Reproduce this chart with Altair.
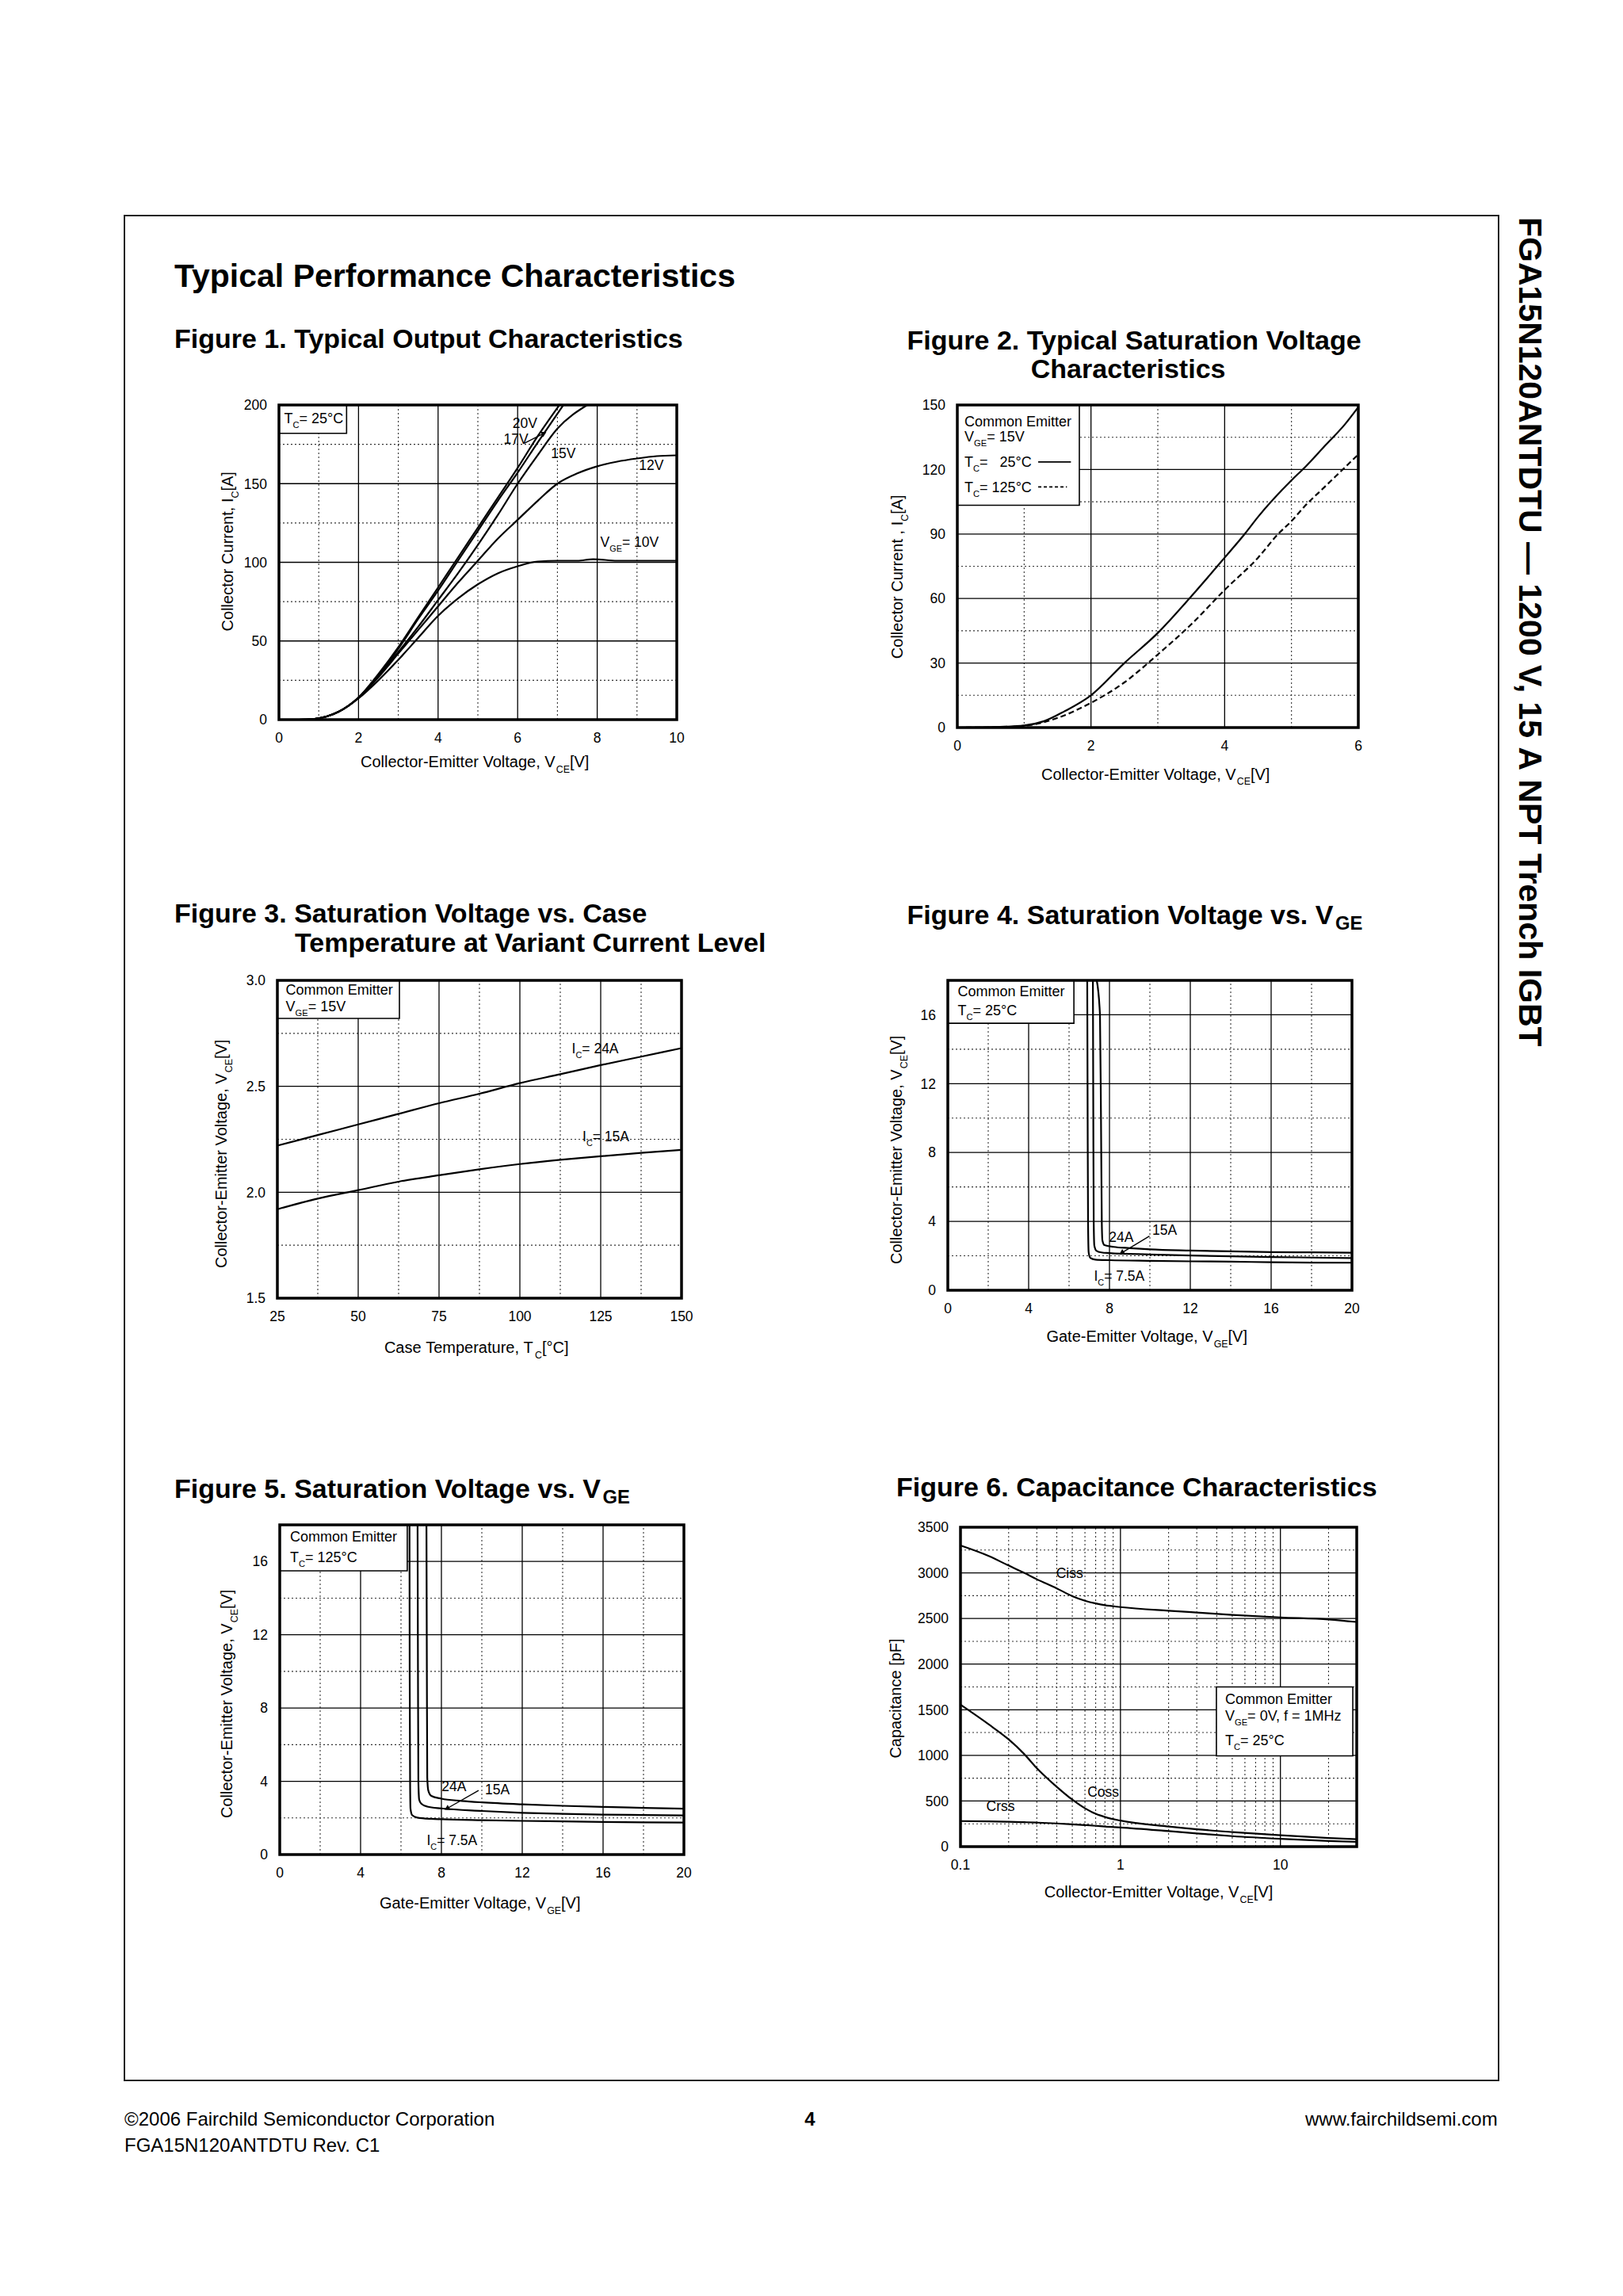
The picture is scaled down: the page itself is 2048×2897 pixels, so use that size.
import math
import altair as alt
import pandas as pd

# ====================== DATA ======================
# Figure 1 - Typical output characteristics, Tc = 25 C   (VCE [V] -> IC [A])
f1_vge20_vce = [0, 0.5, 0.9, 1.2, 1.5, 2, 2.5, 3, 3.5, 4, 4.5, 5, 5.5, 6, 6.5, 7.05]
f1_vge20_ic = [0, 0, 0.5, 2, 5, 14, 29, 46, 65, 84, 103, 122, 141, 160, 180, 200]
f1_vge17_vce = [0, 0.5, 0.9, 1.2, 1.5, 2, 2.5, 3, 3.5, 4, 4.5, 5, 5.5, 6, 6.5, 7.15]
f1_vge17_ic = [0, 0, 0.5, 2, 5, 14, 28, 45, 64, 82, 101, 120, 139, 157, 176, 200]
f1_vge15_vce = [0, 0.5, 0.9, 1.2, 1.5, 2, 2.5, 3, 3.5, 4, 4.5, 5, 5.5, 6, 6.5, 7, 7.75]
f1_vge15_ic = [0, 0, 0.5, 2, 5, 14, 28, 43, 59, 76, 93, 111, 130, 150, 168, 185, 200]
f1_vge12_vce = [0, 0.5, 0.9, 1.2, 1.5, 2, 2.5, 3, 3.5, 4, 4.5, 5, 5.5, 6, 6.5, 7, 7.5, 8, 8.5, 9, 9.5, 10]
f1_vge12_ic = [0, 0, 0.5, 2, 5, 14, 27, 42, 57, 72, 87, 101, 115, 127, 139, 150, 156.5, 161, 164, 166, 167.5, 168]
f1_vge10_vce = [0, 0.5, 0.9, 1.2, 1.5, 2, 2.5, 3, 3.5, 4, 4.5, 5, 5.5, 6, 6.5, 7, 7.5, 7.9, 8.5, 9, 10]
f1_vge10_ic = [0, 0, 0.5, 2, 5, 13.5, 25, 38, 52, 66, 77, 86, 93, 97.5, 100.5, 101, 101, 102, 101, 101, 101]

# Figure 2 - Typical saturation voltage, VGE = 15 V
f2_t25_vce = [0, 0.5, 1.0, 1.3, 1.6, 2.0, 2.5, 3.0, 3.5, 4.0, 4.3, 4.5, 5.0, 5.2, 5.5, 5.8, 6.0]
f2_t25_ic = [0, 0.2, 1, 3, 7.5, 15, 30, 44, 61, 79, 90, 98, 115, 121, 131, 141, 149]
f2_t125_vce = [0, 0.5, 1.0, 1.5, 2.0, 2.5, 3.0, 3.5, 4.0, 4.5, 4.8, 5.0, 5.2, 5.5, 5.8, 6.0]
f2_t125_ic = [0, 0.1, 0.8, 4.5, 11.5, 21, 34, 48, 64, 79, 90, 96, 103, 112, 121, 127]

# Figure 3 - Saturation voltage vs case temperature
f3_tc = [25, 37.5, 50, 62.5, 75, 87.5, 100, 112.5, 125, 137.5, 150]
f3_ic24_vce = [2.22, 2.27, 2.32, 2.37, 2.42, 2.465, 2.515, 2.557, 2.60, 2.64, 2.68]
f3_ic15_vce = [1.92, 1.97, 2.01, 2.05, 2.08, 2.108, 2.133, 2.153, 2.17, 2.186, 2.20]

# Figure 4 - Saturation voltage vs VGE, Tc = 25 C
f4_ic24_vge = [7.37, 7.53, 7.58, 7.62, 7.65, 7.75, 8.2, 9, 10, 12, 14, 16, 18, 20]
f4_ic24_vce = [18, 16, 10, 4, 2.9, 2.62, 2.52, 2.45, 2.38, 2.31, 2.26, 2.22, 2.2, 2.18]
f4_ic15_vge = [7.18, 7.2, 7.22, 7.25, 7.35, 7.6, 8, 10, 12, 14, 16, 18, 20]
f4_ic15_vce = [18, 10, 4, 2.6, 2.3, 2.2, 2.16, 2.08, 2.02, 1.97, 1.93, 1.9, 1.87]
f4_ic7_vge = [6.9, 6.92, 6.94, 6.97, 7.05, 7.3, 8, 10, 12, 14, 16, 18, 20]
f4_ic7_vce = [18, 10, 4, 2.2, 1.88, 1.78, 1.75, 1.71, 1.68, 1.66, 1.63, 1.61, 1.6]

# Figure 5 - Saturation voltage vs VGE, Tc = 125 C
f5_ic24_vge = [7.26, 7.28, 7.3, 7.35, 7.5, 8, 9, 10, 12, 14, 16, 18, 20]
f5_ic24_vce = [18, 10, 4.2, 3.5, 3.2, 3.05, 2.93, 2.85, 2.74, 2.66, 2.6, 2.55, 2.5]
f5_ic15_vge = [6.82, 6.84, 6.86, 6.9, 7.0, 7.3, 8, 10, 12, 14, 16, 18, 20]
f5_ic15_vce = [18, 10, 4, 3.0, 2.78, 2.62, 2.52, 2.38, 2.28, 2.22, 2.18, 2.16, 2.14]
f5_ic7_vge = [6.42, 6.43, 6.45, 6.47, 6.55, 6.8, 7.5, 8, 10, 12, 14, 16, 18, 20]
f5_ic7_vce = [18, 10, 4, 2.5, 2.15, 2.02, 1.95, 1.93, 1.88, 1.84, 1.81, 1.78, 1.76, 1.75]

# Figure 6 - Capacitance characteristics
f6_vce = [0.1, 0.15, 0.2, 0.25, 0.3, 0.4, 0.5, 0.6, 0.7, 0.8, 1, 2, 3, 5, 10, 20, 30]
f6_ciss = [3300, 3185, 3080, 3000, 2930, 2830, 2745, 2695, 2665, 2645, 2625, 2585, 2565, 2540, 2512, 2490, 2462]
f6_coss = [1555, 1340, 1175, 1015, 860, 655, 515, 420, 360, 325, 285, 220, 190, 160, 125, 95, 82]
f6_crss = [280, 277, 273, 268, 263, 254, 245, 236, 228, 220, 210, 170, 145, 115, 85, 62, 52]

# ---- tick labels and grid lines ----
f1_xticks = [0, 2, 4, 6, 8, 10]
f1_yticks = [0, 50, 100, 150, 200]
f1_xminor = [1, 3, 5, 7, 9]
f1_yminor = [25, 75, 125, 175]
f2_xticks = [0, 2, 4, 6]
f2_yticks = [0, 30, 60, 90, 120, 150]
f2_xminor = [1, 3, 5]
f2_yminor = [15, 45, 75, 105, 135]
f3_xticks = [25, 50, 75, 100, 125, 150]
f3_yticks = [1.5, 2.0, 2.5, 3.0]
f3_xminor = [37.5, 62.5, 87.5, 112.5, 137.5]
f3_yminor = [1.75, 2.25, 2.75]
f45_xticks = [0, 4, 8, 12, 16, 20]
f45_yticks = [0, 4, 8, 12, 16]
f45_xminor = [2, 6, 10, 14, 18]
f45_yminor = [2, 6, 10, 14]
f6_xticks = [0.1, 1, 10]
f6_yticks = [0, 500, 1000, 1500, 2000, 2500, 3000, 3500]
f6_xminor = [0.2, 0.3, 0.4, 0.5, 0.6, 0.7, 0.8, 0.9, 2, 3, 4, 5, 6, 7, 8, 9, 20]
f6_yminor = [250, 750, 1250, 1750, 2250, 2750, 3250]

# ====================== LAYOUT ======================
PAGE_W, PAGE_H = 2048, 2897
M = 8
W, H = PAGE_W - 2 * M, PAGE_H - 2 * M
FONT = "Liberation Sans"
NB = "\u00a0"

# plot rectangles in page pixels: x=(left, right), y=(bottom, top)
PANELS = {
    1: dict(x=(352, 854), y=(908, 511), xd=(0, 10), yd=(0, 200), log=False),
    2: dict(x=(1208, 1714), y=(918, 511), xd=(0, 6), yd=(0, 150), log=False),
    3: dict(x=(350, 860), y=(1638, 1237), xd=(25, 150), yd=(1.5, 3.0), log=False),
    4: dict(x=(1196, 1706), y=(1628, 1237), xd=(0, 20), yd=(0, 18), log=False),
    5: dict(x=(353, 863), y=(2340, 1924), xd=(0, 20), yd=(0, 18), log=False),
    6: dict(x=(1212, 1712), y=(2330, 1927), xd=(0.1, 30), yd=(0, 3500), log=True),
}

ONE = pd.DataFrame({"k": [0]})

REG_W = {' ': 278, NB: 278, '!': 278, '(': 333, ')': 333, ',': 278, '-': 333, '.': 278, '/': 278,
         ':': 278, '=': 584, '[': 278, ']': 278, '°': 400, '©': 737, '—': 1000}
BOLD_W = {' ': 278, NB: 278, '(': 333, ')': 333, ',': 278, '-': 333, '.': 278, ':': 333, '=': 584, '—': 1000}
for c in "0123456789":
    REG_W[c] = 556
    BOLD_W[c] = 556
for c, w in zip("ABCDEFGHIJKLMNOPQRSTUVWXYZ",
                [667, 667, 722, 722, 667, 611, 778, 722, 278, 500, 667, 556, 833, 722, 778, 667, 778, 722, 667, 611, 722, 667, 944, 667, 667, 611]):
    REG_W[c] = w
for c, w in zip("abcdefghijklmnopqrstuvwxyz",
                [556, 556, 500, 556, 556, 278, 556, 556, 222, 222, 500, 222, 833, 556, 556, 556, 556, 333, 500, 278, 556, 500, 722, 500, 500, 500]):
    REG_W[c] = w
for c, w in zip("ABCDEFGHIJKLMNOPQRSTUVWXYZ",
                [722, 722, 722, 722, 667, 611, 778, 722, 278, 556, 722, 611, 833, 722, 778, 667, 778, 722, 667, 611, 722, 667, 944, 667, 667, 611]):
    BOLD_W[c] = w
for c, w in zip("abcdefghijklmnopqrstuvwxyz",
                [556, 611, 556, 611, 556, 333, 611, 611, 278, 278, 556, 278, 889, 611, 611, 611, 611, 389, 556, 333, 611, 556, 778, 556, 556, 500]):
    BOLD_W[c] = w


def text_width(s, fs, bold=False):
    tab = BOLD_W if bold else REG_W
    return sum(tab.get(c, 556) for c in s) * fs / 1000.0


def split_segments(segs, fs, bold, sub_scale, sub_drop):
    items, cum = [], 0.0
    for s in segs:
        if s.startswith('_'):
            t, f, d = s[1:], fs * sub_scale, fs * sub_drop
        else:
            t, f, d = s, fs, 0.0
        t = t.replace(' ', NB)          # keep leading / repeated spaces in SVG
        items.append((t, f, cum, d))
        cum += text_width(t, f, bold)
    return items, cum


def XS(p):
    P = PANELS[p]
    kw = dict(domain=list(P['xd']), range=[P['x'][0] - M, P['x'][1] - M], nice=False)
    if P['log']:
        kw['type'] = 'log'
    else:
        kw['zero'] = False
    return alt.Scale(**kw)


def YS(p):
    P = PANELS[p]
    return alt.Scale(domain=list(P['yd']), range=[P['y'][0] - M, P['y'][1] - M], nice=False, zero=False)


def xd(p, v):
    return alt.XDatum(v, type='quantitative', scale=XS(p), axis=None)


def yd(p, v):
    return alt.YDatum(v, type='quantitative', scale=YS(p), axis=None)


MINOR = dict(color='#333333', strokeWidth=1.1, strokeDash=[2, 3])
MAJOR = dict(color='black', strokeWidth=1.3)
TICK_FS = 17.5


def fmt_tick(v, fmt):
    if fmt == '.1f':
        return f"{v:.1f}"
    if fmt == 'g':
        return f"{v:g}"
    return f"{int(round(v))}"


def grid(p, xmaj, xmin, ymaj, ymin, xticks, yticks, xfmt, yfmt):
    P = PANELS[p]
    x0, x1 = P['xd']
    y0, y1 = P['yd']
    xlab = pd.DataFrame({'v': xticks, 'lab': [fmt_tick(v, xfmt) for v in xticks]})
    ylab = pd.DataFrame({'v': yticks, 'lab': [fmt_tick(v, yfmt) for v in yticks]})
    return [
        alt.Chart(pd.DataFrame({'v': xmin})).mark_rule(**MINOR).encode(
            x=alt.X('v:Q', scale=XS(p), axis=None), y=yd(p, y0), y2=alt.Y2Datum(y1)),
        alt.Chart(pd.DataFrame({'v': ymin})).mark_rule(**MINOR).encode(
            y=alt.Y('v:Q', scale=YS(p), axis=None), x=xd(p, x0), x2=alt.X2Datum(x1)),
        alt.Chart(pd.DataFrame({'v': xmaj})).mark_rule(**MAJOR).encode(
            x=alt.X('v:Q', scale=XS(p), axis=None), y=yd(p, y0), y2=alt.Y2Datum(y1)),
        alt.Chart(pd.DataFrame({'v': ymaj})).mark_rule(**MAJOR).encode(
            y=alt.Y('v:Q', scale=YS(p), axis=None), x=xd(p, x0), x2=alt.X2Datum(x1)),
        # tick labels (x below the plot, y left of the plot)
        alt.Chart(xlab).mark_text(align='center', baseline='alphabetic', font=FONT, fontSize=TICK_FS,
                                  color='black', dy=round(22.6 + 0.358 * TICK_FS, 2)).encode(
            x=alt.X('v:Q', scale=XS(p), axis=None), y=yd(p, y0), text='lab:N'),
        alt.Chart(ylab).mark_text(align='right', baseline='alphabetic', font=FONT, fontSize=TICK_FS,
                                  color='black', dx=-15, dy=round(0.358 * TICK_FS, 2)).encode(
            y=alt.Y('v:Q', scale=YS(p), axis=None), x=xd(p, x0), text='lab:N'),
    ]


def frame(p):
    P = PANELS[p]
    return alt.Chart(ONE).mark_rect(fillOpacity=0, stroke='black', strokeWidth=3.5).encode(
        x=xd(p, P['xd'][0]), x2=alt.X2Datum(P['xd'][1]), y=yd(p, P['yd'][0]), y2=alt.Y2Datum(P['yd'][1]))


def box(p, bx0, bx1, by0, by1):
    return alt.Chart(ONE).mark_rect(fill='white', stroke='black', strokeWidth=1.6).encode(
        x=xd(p, bx0), x2=alt.X2Datum(bx1), y=yd(p, by0), y2=alt.Y2Datum(by1))


def curve(p, xs_, ys_, dash=None):
    df = pd.DataFrame({'x': xs_, 'y': ys_, 'i': list(range(len(xs_)))})
    kw = dict(color='black', strokeWidth=2.2, interpolate='monotone')
    if dash:
        kw['strokeDash'] = dash
    return alt.Chart(df).mark_line(**kw).encode(
        x=alt.X('x:Q', scale=XS(p), axis=None), y=alt.Y('y:Q', scale=YS(p), axis=None), order='i:Q')


def seg_rule(p, ax0, ay0, ax1, ay1, dash=None, width=1.5):
    kw = dict(color='black', strokeWidth=width)
    if dash:
        kw['strokeDash'] = dash
    return alt.Chart(ONE).mark_rule(**kw).encode(
        x=xd(p, ax0), y=yd(p, ay0), x2=alt.X2Datum(ax1), y2=alt.Y2Datum(ay1))


def arrow(p, ax0, ay0, ax1, ay1):
    P = PANELS[p]
    sx = (P['x'][1] - P['x'][0]) / (P['xd'][1] - P['xd'][0])
    sy = (P['y'][0] - P['y'][1]) / (P['yd'][1] - P['yd'][0])
    dxp, dyp = (ax1 - ax0) * sx, -(ay1 - ay0) * sy
    ang = math.degrees(math.atan2(dxp, -dyp)) % 360
    head = alt.Chart(ONE).mark_point(shape='triangle-up', filled=True, color='black', opacity=1,
                                     size=55, angle=round(ang, 1)).encode(x=xd(p, ax1), y=yd(p, ay1))
    return [seg_rule(p, ax0, ay0, ax1, ay1, width=1.4), head]


def anno(p, segs, x, y, fs=17.5, align='center', sub=(0.62, 0.33)):
    items, total = split_segments(segs, fs, False, *sub)
    start = 0.0 if align == 'left' else -total / 2
    out = []
    for t, f, cum, d in items:
        out.append(alt.Chart(ONE).mark_text(
            align='left', baseline='alphabetic', font=FONT, fontSize=round(f, 2), color='black',
            dx=round(start + cum, 2), dy=round(0.358 * fs + d, 2)).encode(
            x=xd(p, x), y=yd(p, y), text=alt.value(t)))
    return out


PAGE_ROWS = {'normal': [], 'bold': []}


def page_text(segs, x, y, fs, bold=False, angle=0, align='center', sub=(0.62, 0.33)):
    items, total = split_segments(segs, fs, bold, *sub)
    a = math.radians(angle)
    ux, uy = math.cos(a), math.sin(a)
    vx, vy = -math.sin(a), math.cos(a)
    start = {'left': 0.0, 'center': -total / 2, 'right': -total}[align]
    base = 0.358 * fs
    for t, f, cum, d in items:
        along, off = start + cum, base + d
        PAGE_ROWS['bold' if bold else 'normal'].append(dict(
            px=round(x + along * ux + off * vx - M, 2), py=round(y + along * uy + off * vy - M, 2),
            t=t, fs=round(f, 2), ang=angle % 360))


def page_text_layer(rows, weight):
    return alt.Chart(pd.DataFrame(rows)).mark_text(
        align='left', baseline='alphabetic', font=FONT, fontWeight=weight, color='black').encode(
        x=alt.X('px:Q', scale=None, axis=None),
        y=alt.Y('py:Q', scale=None, axis=None),
        text=alt.Text('t:N'),
        size=alt.Size('fs:Q', scale=None, legend=None),
        angle=alt.Angle('ang:Q', scale=None))


# ====================== FIGURES ======================
LEG = 18
fig1 = alt.layer(
    *grid(1, [2, 4, 6, 8], f1_xminor, [50, 100, 150], f1_yminor, f1_xticks, f1_yticks, 'd', 'd'),
    box(1, 0, 1.70, 182, 200),
    curve(1, f1_vge10_vce, f1_vge10_ic), curve(1, f1_vge12_vce, f1_vge12_ic),
    curve(1, f1_vge15_vce, f1_vge15_ic), curve(1, f1_vge17_vce, f1_vge17_ic),
    curve(1, f1_vge20_vce, f1_vge20_ic),
    frame(1),
    *anno(1, ["T", "_C", " = 25°C"], 0.13, 191.6, fs=LEG, align='left'),
    *anno(1, ["20V"], 6.18, 188.4), *anno(1, ["17V"], 5.96, 178.3),
    *anno(1, ["15V"], 7.15, 169.3), *anno(1, ["12V"], 9.36, 161.7),
    *anno(1, ["V", "_GE", " = 10V"], 8.86, 112.8),
    *arrow(1, 6.175, 175.8, 6.665, 182.0),
)

fig2 = alt.layer(
    *grid(2, [2, 4], f2_xminor, [30, 60, 90, 120], f2_yminor, f2_xticks, f2_yticks, 'd', 'd'),
    box(2, 0, 1.826, 103.4, 150),
    curve(2, f2_t125_vce, f2_t125_ic, dash=[7, 4]), curve(2, f2_t25_vce, f2_t25_ic),
    frame(2),
    *anno(2, ["Common Emitter"], 0.107, 142.6, fs=LEG, align='left'),
    *anno(2, ["V", "_GE", " = 15V"], 0.107, 135.3, fs=LEG, align='left'),
    *anno(2, ["T", "_C", " =   25°C"], 0.107, 123.5, fs=LEG, align='left'),
    *anno(2, ["T", "_C", " = 125°C"], 0.107, 111.9, fs=LEG, align='left'),
    seg_rule(2, 1.21, 123.5, 1.70, 123.5, width=1.6),
    seg_rule(2, 1.21, 111.9, 1.64, 111.9, dash=[4, 3], width=1.6),
)

fig3 = alt.layer(
    *grid(3, [50, 75, 100, 125], f3_xminor, [2.0, 2.5], f3_yminor, f3_xticks, f3_yticks, 'd', '.1f'),
    box(3, 25, 62.75, 2.8205, 3.0),
    curve(3, f3_tc, f3_ic24_vce), curve(3, f3_tc, f3_ic15_vce),
    frame(3),
    *anno(3, ["Common Emitter"], 27.6, 2.955, fs=LEG, align='left'),
    *anno(3, ["V", "_GE", " = 15V"], 27.6, 2.877, fs=LEG, align='left'),
    *anno(3, ["I", "_C", " = 24A"], 123.9, 2.679),
    *anno(3, ["I", "_C", " = 15A"], 127.2, 2.263),
)

fig4 = alt.layer(
    *grid(4, [4, 8, 12, 16], f45_xminor, [4, 8, 12, 16], f45_yminor, f45_xticks, f45_yticks, 'd', 'd'),
    box(4, 0, 6.24, 15.51, 18),
    curve(4, f4_ic7_vge, f4_ic7_vce), curve(4, f4_ic15_vge, f4_ic15_vce), curve(4, f4_ic24_vge, f4_ic24_vce),
    frame(4),
    *anno(4, ["Common Emitter"], 0.49, 17.38, fs=LEG, align='left'),
    *anno(4, ["T", "_C", " = 25°C"], 0.49, 16.25, fs=LEG, align='left'),
    *anno(4, ["24A"], 8.58, 3.1), *anno(4, ["15A"], 10.73, 3.52),
    *anno(4, ["I", "_C", " = 7.5A"], 8.58, 0.83),
    *arrow(4, 9.98, 3.15, 8.6, 2.17),
)

fig5 = alt.layer(
    *grid(5, [4, 8, 12, 16], f45_xminor, [4, 8, 12, 16], f45_yminor, f45_xticks, f45_yticks, 'd', 'd'),
    box(5, 0, 6.31, 15.49, 18),
    curve(5, f5_ic7_vge, f5_ic7_vce), curve(5, f5_ic15_vge, f5_ic15_vce), curve(5, f5_ic24_vge, f5_ic24_vce),
    frame(5),
    *anno(5, ["Common Emitter"], 0.51, 17.35, fs=LEG, align='left'),
    *anno(5, ["T", "_C", " = 125°C"], 0.51, 16.25, fs=LEG, align='left'),
    *anno(5, ["24A"], 8.62, 3.72), *anno(5, ["15A"], 10.77, 3.55),
    *anno(5, ["I", "_C", " = 7.5A"], 8.62, 0.8),
    *arrow(5, 9.84, 3.5, 8.27, 2.51),
)

fig6 = alt.layer(
    *grid(6, [1, 10], f6_xminor, [500, 1000, 1500, 2000, 2500, 3000], f6_yminor, f6_xticks, f6_yticks, 'g', 'd'),
    box(6, 3.98, 28.35, 994, 1750),
    curve(6, f6_vce, f6_ciss), curve(6, f6_vce, f6_coss), curve(6, f6_vce, f6_crss),
    frame(6),
    *anno(6, ["Common Emitter"], 4.515, 1615, fs=LEG, align='left'),
    *anno(6, ["V", "_GE", " = 0V, f = 1MHz"], 4.515, 1433, fs=LEG, align='left'),
    *anno(6, ["T", "_C", " = 25°C"], 4.515, 1164, fs=LEG, align='left'),
    *anno(6, ["Ciss"], 0.481, 2996), *anno(6, ["Coss"], 0.78, 599), *anno(6, ["Crss"], 0.178, 445),
)

# ====================== PAGE TEXT ======================
TSUB = (0.7, 0.22)
page_text(["Typical Performance Characteristics"], 220, 347.5, 41, bold=True, align='left')
page_text(["Figure 1. Typical Output Characteristics"], 220, 427, 34, bold=True, align='left')
page_text(["Figure 2. Typical Saturation Voltage"], 1144.6, 428.7, 34, bold=True, align='left')
page_text(["Characteristics"], 1423.6, 465, 34, bold=True, align='center')
page_text(["Figure 3. Saturation Voltage vs. Case"], 220, 1151.6, 34, bold=True, align='left')
page_text(["Temperature at Variant Current Level"], 372, 1189, 34, bold=True, align='left')
page_text(["Figure 4. Saturation Voltage vs. V", "_GE"], 1144.6, 1153.6, 34, bold=True, align='left', sub=TSUB)
page_text(["Figure 5. Saturation Voltage vs. V", "_GE"], 220, 1877.5, 34, bold=True, align='left', sub=TSUB)
page_text(["Figure 6. Capacitance Characteristics"], 1131, 1875.6, 34, bold=True, align='left')
page_text(["FGA15N120ANTDTU — 1200 V, 15 A NPT Trench IGBT"], 1932, 274, 41, bold=True, angle=90, align='left')

AX = 20
page_text(["Collector Current, I", "_C", " [A]"], 287, 693, AX, angle=270)
page_text(["Collector-Emitter Voltage, V", "_CE", " [V]"], 602, 961, AX)
page_text(["Collector Current , I", "_C", " [A]"], 1132, 725, AX, angle=270)
page_text(["Collector-Emitter Voltage, V", "_CE", " [V]"], 1461, 976.6, AX)
page_text(["Collector-Emitter Voltage, V", "_CE", " [V]"], 279, 1453, AX, angle=270)
page_text(["Case Temperature, T", "_C", " [°C]"], 604, 1700, AX)
page_text(["Collector-Emitter Voltage, V", "_CE", " [V]"], 1131, 1448, AX, angle=270)
page_text(["Gate-Emitter Voltage, V", "_GE", " [V]"], 1450, 1686, AX)
page_text(["Collector-Emitter Voltage, V", "_CE", " [V]"], 286, 2147, AX, angle=270)
page_text(["Gate-Emitter Voltage, V", "_GE", " [V]"], 608.5, 2401, AX)
page_text(["Capacitance [pF]"], 1130, 2143, AX, angle=270)
page_text(["Collector-Emitter Voltage, V", "_CE", "[V]"], 1462, 2387, AX)

page_text(["©2006 Fairchild Semiconductor Corporation"], 157, 2673, 24, align='left')
page_text(["FGA15N120ANTDTU Rev. C1"], 157, 2706, 24, align='left')
page_text(["4"], 1022, 2673, 24, bold=True, align='center')
page_text(["www.fairchildsemi.com"], 1891, 2673, 24, align='right')

page_frame = alt.Chart(ONE).mark_rect(fillOpacity=0, stroke='#222222', strokeWidth=2).encode(
    x=alt.value(157 - M), x2=alt.value(1891 - M), y=alt.value(272 - M), y2=alt.value(2625 - M))

chart = alt.layer(
    page_frame, fig1, fig2, fig3, fig4, fig5, fig6,
    page_text_layer(PAGE_ROWS['normal'], 'normal'),
    page_text_layer(PAGE_ROWS['bold'], 'bold'),
).resolve_scale(x='independent', y='independent').properties(
    width=W, height=H, autosize=alt.AutoSizeParams(type='none'), padding=0, background='white'
).configure_view(stroke=None)

chart.save("out.html", embed_options={"renderer": "svg", "actions": False})
